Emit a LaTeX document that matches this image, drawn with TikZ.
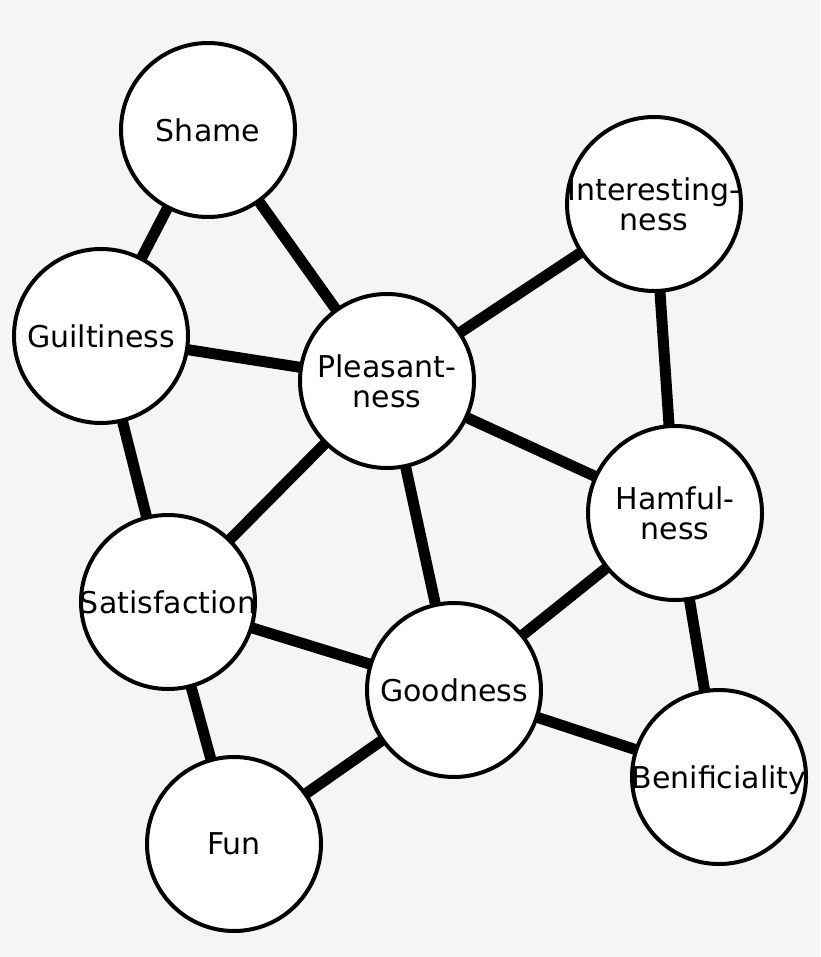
\documentclass[tikz,border=0pt]{standalone}
\usepackage{fontspec}
\setmainfont{DejaVu Sans}
\usepackage{tikz}
\definecolor{PaperGray}{RGB}{245,245,245}
\pgfdeclarelayer{paper}
\pgfdeclarelayer{links}
\pgfsetlayers{paper,links,main}
\newcommand{\Word}[1]{\makebox[0pt]{#1}}% keeps the circles the same size

\begin{document}
\begin{tikzpicture}[x=1pt, y=-1pt,
    every node/.style={font=\fontsize{30}{29.5}\selectfont},
    concept/.style={circle, draw=black, line width=4pt, fill=white,
      minimum size=174pt, inner sep=0pt, align=center, text depth=0pt},
    link/.style={line width=11pt}]
    \useasboundingbox (0,0) rectangle (820,957);
    \begin{pgfonlayer}{paper}
      \fill[PaperGray] (0,0) rectangle (820,957);% Paper
    \end{pgfonlayer}

    \node[concept] (Shame)    at (208,130) {\Word{Shame}};
    \node[concept] (Interest) at (654,204) {\Word{Interesting-}\\\Word{ness}};
    \node[concept] (Guilt)    at (101,336) {\Word{Guiltiness}};
    \node[concept] (Pleasant) at (387,381) {\Word{Pleasant-}\\\Word{ness}};
    \node[concept] (Harm)     at (675,513) {\Word{Hamful-}\\\Word{ness}};
    \node[concept] (Satisf)   at (168,602) {\Word{Satisfaction}};
    \node[concept] (Good)     at (454,690) {\Word{Goodness}};
    \node[concept] (Benefit)  at (719,777) {\Word{Benificiality}};
    \node[concept] (Fun)      at (234,844) {\Word{Fun}};

    \begin{pgfonlayer}{links}% Links run under the circles
      \foreach \a/\b in {Shame/Guilt, Shame/Pleasant, Guilt/Pleasant,
          Guilt/Satisf, Pleasant/Interest, Pleasant/Harm, Pleasant/Satisf,
          Pleasant/Good, Interest/Harm, Harm/Good, Harm/Benefit,
          Satisf/Good, Satisf/Fun, Good/Fun, Good/Benefit}{
        \draw[link] (\a.center) -- (\b.center);
      }
    \end{pgfonlayer}
\end{tikzpicture}
\end{document}
